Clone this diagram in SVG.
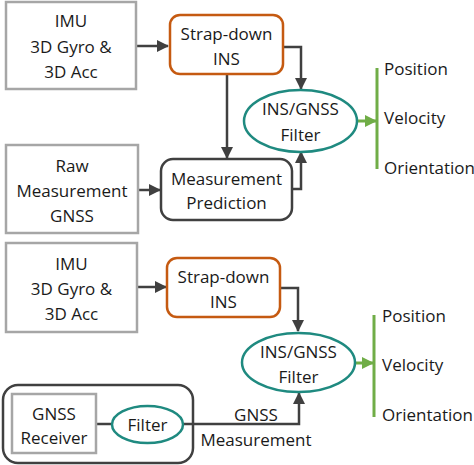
<svg xmlns="http://www.w3.org/2000/svg" width="474" height="465" viewBox="0 0 474 465">
<defs>
<marker id="ah" markerUnits="userSpaceOnUse" markerWidth="12" markerHeight="12" viewBox="0 0 12 12" refX="11" refY="6" orient="auto"><path d="M0,0 L12,6 L0,12 Z" fill="#404040"/></marker>
<marker id="gh" markerUnits="userSpaceOnUse" markerWidth="12" markerHeight="12" viewBox="0 0 12 12" refX="11" refY="6" orient="auto"><path d="M0,0 L12,6 L0,12 Z" fill="#70ad47"/></marker>
<style>
text{font-family:"Open Sans","Liberation Sans",sans-serif;font-size:17px;fill:#1a1a1a;text-anchor:middle}
.l{text-anchor:start}
.gray{fill:#fff;stroke:#a6a6a6;stroke-width:2.5}
.orange{fill:#fff;stroke:#c55a11;stroke-width:2.5}
.dark{fill:#fff;stroke:#404040;stroke-width:2.5}
.teal{fill:#fff;stroke:#1f8a80;stroke-width:2.5}
.c{fill:none;stroke:#404040;stroke-width:2.5}
.g{fill:none;stroke:#70ad47;stroke-width:3}
</style>
</defs>
<rect width="474" height="465" fill="#fff"/>
<g id="gnssbox"><rect class="dark" x="3" y="385" width="190" height="78" rx="15" stroke-width="3"/></g>

<g id="connectors">
<path class="c" d="M136,46 H168" marker-end="url(#ah)"/>
<path class="c" d="M227,74 V158" marker-end="url(#ah)"/>
<path class="c" d="M283,47 H301 V89" marker-end="url(#ah)"/>
<path class="c" d="M138,190 H160" marker-end="url(#ah)"/>
<path class="c" d="M292,189 H301 V152" marker-end="url(#ah)"/>
<path class="g" d="M357,121 H376" marker-end="url(#gh)"/>
<path class="g" d="M377,68 V169"/>
<path class="c" d="M137,287 H166" marker-end="url(#ah)"/>
<path class="c" d="M280,288 H298 V331" marker-end="url(#ah)"/>
<path class="c" d="M96,424 H112"/>
<path class="c" d="M183,424 H299 V393" marker-end="url(#ah)"/>
<path class="g" d="M355,363 H373" marker-end="url(#gh)"/>
<path class="g" d="M374,315 V417"/>
</g>

<g id="imu1"><rect class="gray" x="6" y="2" width="130" height="87"/>
<text x="71" y="27">IMU</text><text x="71" y="53">3D Gyro &amp;</text><text x="71" y="78">3D Acc</text></g>
<g id="ins1"><rect class="orange" x="170" y="15" width="113" height="59" rx="10"/>
<text x="226.5" y="40">Strap-down</text><text x="226.5" y="65">INS</text></g>
<g id="raw"><rect class="gray" x="6" y="145" width="132" height="88"/>
<text x="72" y="172">Raw</text><text x="72" y="197">Measurement</text><text x="72" y="222">GNSS</text></g>
<g id="pred"><rect class="dark" x="161" y="159" width="131" height="61" rx="12"/>
<text x="226.5" y="185">Measurement</text><text x="226.5" y="209">Prediction</text></g>
<g id="filter1"><ellipse class="teal" cx="300.5" cy="121" rx="56.5" ry="31"/>
<text x="300.5" y="115">INS/GNSS</text><text x="300.5" y="141">Filter</text></g>
<g id="out1"><text class="l" x="384" y="75">Position</text><text class="l" x="384" y="124">Velocity</text><text class="l" x="384" y="174">Orientation</text></g>

<g id="imu2"><rect class="gray" x="6" y="243" width="131" height="89"/>
<text x="71.5" y="270">IMU</text><text x="71.5" y="295">3D Gyro &amp;</text><text x="71.5" y="320">3D Acc</text></g>
<g id="ins2"><rect class="orange" x="167" y="258" width="113" height="59" rx="10"/>
<text x="223.5" y="283">Strap-down</text><text x="223.5" y="308">INS</text></g>
<g id="filter2"><ellipse class="teal" cx="298.5" cy="362.5" rx="56.5" ry="29.5"/>
<text x="298.5" y="358">INS/GNSS</text><text x="298.5" y="383">Filter</text></g>
<g id="out2"><text class="l" x="382" y="322">Position</text><text class="l" x="382" y="371">Velocity</text><text class="l" x="382" y="421">Orientation</text></g>
<g id="receiver"><rect class="gray" x="12" y="394" width="84" height="59"/>
<text x="54" y="420">GNSS</text><text x="54" y="444">Receiver</text></g>
<g id="filter3"><ellipse class="teal" cx="147.5" cy="424.5" rx="35.5" ry="18.5"/>
<text x="147.5" y="431">Filter</text></g>
<g id="gnsslabel"><text x="256" y="421">GNSS</text><text x="256" y="446">Measurement</text></g>
</svg>
